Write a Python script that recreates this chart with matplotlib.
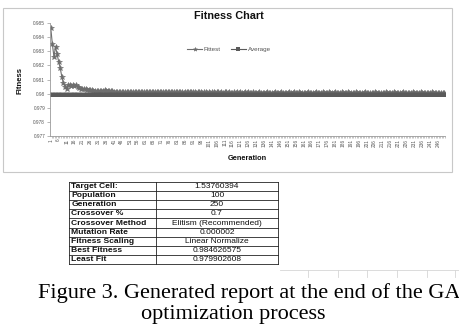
import matplotlib
matplotlib.use('Agg')
import matplotlib.pyplot as plt
from matplotlib.lines import Line2D
from matplotlib.patches import Rectangle
import matplotlib.ticker as mticker

# ---- data ----
generations = list(range(1, 251))

fittest = [
    0.98463, 0.98349, 0.98261, 0.98332, 0.98278, 0.98226, 0.98179, 0.98119, 0.98072, 0.98048,
    0.98032, 0.98062, 0.98060, 0.98055, 0.98058, 0.98052, 0.98062, 0.98050, 0.98040, 0.98035,
    0.98030, 0.98030, 0.98032, 0.98028, 0.98026, 0.98024, 0.98026, 0.98022, 0.98021, 0.98022,
    0.98020, 0.98021, 0.98019, 0.98022, 0.98024, 0.98020, 0.98018, 0.98017, 0.98016, 0.98018,
    0.98015, 0.98014, 0.98013, 0.98015, 0.98013, 0.98012, 0.98011, 0.98012, 0.98014, 0.98011,
    0.98010, 0.98011, 0.98009, 0.98010, 0.98012, 0.98010, 0.98009, 0.98010, 0.98011, 0.98009,
    0.98010, 0.98012, 0.98010, 0.98009, 0.98008, 0.98010, 0.98009, 0.98008, 0.98010, 0.98009,
    0.98008, 0.98009, 0.98010, 0.98008, 0.98009, 0.98008, 0.98010, 0.98009, 0.98008, 0.98009,
    0.98010, 0.98008, 0.98009, 0.98008, 0.98007, 0.98009, 0.98008, 0.98010, 0.98008, 0.98009,
    0.98008, 0.98009, 0.98007, 0.98008, 0.98009, 0.98008, 0.98007, 0.98009, 0.98008, 0.98007,
    0.98008, 0.98007, 0.98009, 0.98008, 0.98007, 0.98008, 0.98009, 0.98007, 0.98008, 0.98007,
    0.98008, 0.98009, 0.98007, 0.98008, 0.98007, 0.98006, 0.98008, 0.98007, 0.98008, 0.98007,
    0.98008, 0.98007, 0.98006, 0.98008, 0.98007, 0.98008, 0.98006, 0.98007, 0.98008, 0.98007,
    0.98006, 0.98007, 0.98008, 0.98007, 0.98006, 0.98007, 0.98006, 0.98008, 0.98007, 0.98006,
    0.98007, 0.98006, 0.98008, 0.98007, 0.98006, 0.98007, 0.98008, 0.98006, 0.98007, 0.98006,
    0.98007, 0.98008, 0.98006, 0.98007, 0.98009, 0.98007, 0.98006, 0.98008, 0.98007, 0.98006,
    0.98007, 0.98006, 0.98007, 0.98008, 0.98006, 0.98007, 0.98006, 0.98007, 0.98008, 0.98006,
    0.98007, 0.98006, 0.98008, 0.98007, 0.98006, 0.98007, 0.98009, 0.98007, 0.98006, 0.98007,
    0.98008, 0.98007, 0.98006, 0.98007, 0.98008, 0.98006, 0.98007, 0.98006, 0.98008, 0.98007,
    0.98006, 0.98007, 0.98006, 0.98008, 0.98007, 0.98006, 0.98007, 0.98006, 0.98007, 0.98008,
    0.98006, 0.98007, 0.98006, 0.98007, 0.98006, 0.98008, 0.98007, 0.98006, 0.98007, 0.98006,
    0.98007, 0.98006, 0.98008, 0.98007, 0.98006, 0.98007, 0.98006, 0.98008, 0.98007, 0.98006,
    0.98007, 0.98006, 0.98007, 0.98008, 0.98006, 0.98007, 0.98006, 0.98007, 0.98006, 0.98008,
    0.98007, 0.98006, 0.98007, 0.98006, 0.98008, 0.98007, 0.98006, 0.98007, 0.98006, 0.98007,
    0.98006, 0.98008, 0.98007, 0.98006, 0.98007, 0.98006, 0.98007, 0.98006, 0.98007, 0.98006,
]

average = [
    0.97993, 0.97992, 0.97993, 0.97992, 0.97993, 0.97992, 0.97993, 0.97992, 0.97992, 0.97993,
    0.97992, 0.97993, 0.97992, 0.97992, 0.97993, 0.97992, 0.97993, 0.97992, 0.97992, 0.97993,
    0.97992, 0.97992, 0.97993, 0.97992, 0.97992, 0.97993, 0.97992, 0.97992, 0.97993, 0.97992,
    0.97992, 0.97993, 0.97992, 0.97992, 0.97992, 0.97993, 0.97992, 0.97992, 0.97993, 0.97992,
    0.97992, 0.97992, 0.97993, 0.97992, 0.97992, 0.97992, 0.97993, 0.97992, 0.97992, 0.97992,
    0.97993, 0.97992, 0.97992, 0.97992, 0.97993, 0.97992, 0.97992, 0.97993, 0.97992, 0.97992,
    0.97992, 0.97993, 0.97992, 0.97992, 0.97992, 0.97992, 0.97993, 0.97992, 0.97992, 0.97992,
    0.97993, 0.97992, 0.97992, 0.97992, 0.97992, 0.97993, 0.97992, 0.97992, 0.97992, 0.97993,
    0.97992, 0.97992, 0.97992, 0.97992, 0.97993, 0.97992, 0.97992, 0.97992, 0.97992, 0.97993,
    0.97992, 0.97992, 0.97992, 0.97993, 0.97992, 0.97992, 0.97992, 0.97992, 0.97993, 0.97992,
    0.97992, 0.97992, 0.97992, 0.97993, 0.97992, 0.97992, 0.97992, 0.97992, 0.97992, 0.97993,
    0.97992, 0.97992, 0.97992, 0.97992, 0.97993, 0.97992, 0.97992, 0.97992, 0.97992, 0.97992,
    0.97993, 0.97992, 0.97992, 0.97992, 0.97992, 0.97993, 0.97992, 0.97992, 0.97992, 0.97992,
    0.97992, 0.97993, 0.97992, 0.97992, 0.97992, 0.97992, 0.97993, 0.97992, 0.97992, 0.97992,
    0.97992, 0.97992, 0.97993, 0.97992, 0.97992, 0.97992, 0.97992, 0.97993, 0.97992, 0.97992,
    0.97992, 0.97992, 0.97992, 0.97993, 0.97992, 0.97992, 0.97992, 0.97992, 0.97993, 0.97992,
    0.97992, 0.97992, 0.97992, 0.97992, 0.97993, 0.97992, 0.97992, 0.97992, 0.97992, 0.97993,
    0.97992, 0.97992, 0.97992, 0.97992, 0.97992, 0.97993, 0.97992, 0.97992, 0.97992, 0.97992,
    0.97993, 0.97992, 0.97992, 0.97992, 0.97992, 0.97992, 0.97993, 0.97992, 0.97992, 0.97992,
    0.97992, 0.97993, 0.97992, 0.97992, 0.97992, 0.97992, 0.97992, 0.97993, 0.97992, 0.97992,
    0.97992, 0.97992, 0.97993, 0.97992, 0.97992, 0.97992, 0.97992, 0.97992, 0.97993, 0.97992,
    0.97992, 0.97992, 0.97992, 0.97993, 0.97992, 0.97992, 0.97992, 0.97992, 0.97992, 0.97993,
    0.97992, 0.97992, 0.97992, 0.97992, 0.97993, 0.97992, 0.97992, 0.97992, 0.97992, 0.97992,
    0.97993, 0.97992, 0.97992, 0.97992, 0.97992, 0.97992, 0.97993, 0.97992, 0.97992, 0.97992,
    0.97992, 0.97993, 0.97992, 0.97992, 0.97992, 0.97992, 0.97992, 0.97993, 0.97992, 0.97992,
]

y_ticks = [0.977, 0.978, 0.979, 0.98, 0.981, 0.982, 0.983, 0.984, 0.985]
x_tick_gens = list(range(1, 251, 5))

table_labels = ['Target Cell:', 'Population', 'Generation', 'Crossover %', 'Crossover Method',
                'Mutation Rate', 'Fitness Scaling', 'Best Fitness', 'Least Fit']
table_values = ['1.53760394', '100', '250', '0.7', 'Elitism (Recommended)',
                '0.000002', 'Linear Normalize', '0.984626575', '0.979902608']

# ---- figure, pixel helpers ----
W, H = 460, 328
fig = plt.figure(figsize=(W / 100, H / 100), dpi=100)

def fx(x):
    return x / W

def fy(y):
    return 1 - y / H

sans = 'Liberation Sans'

# chart border
fig.patches.append(Rectangle((fx(3), fy(172)), fx(449), 164 / H, transform=fig.transFigure,
                             fill=False, edgecolor='#c8c8c8', linewidth=0.8))

# plot area
ax = fig.add_axes([fx(50), fy(136), fx(395), 113 / H])
ax.plot(generations, fittest, color='#6e6e6e', linewidth=0.8, marker='*',
        markersize=4, markeredgewidth=0.4, label='Fittest')
ax.plot(generations, average, color='#5a5a5a', linewidth=3.2, marker='s',
        markersize=2.8, markeredgewidth=0, label='Average')

ax.set_xlim(0.5, 250.5)
ax.set_ylim(0.977, 0.985)
ax.set_yticks(y_ticks)
ax.yaxis.set_major_formatter(mticker.FuncFormatter(lambda v, p: '%g' % round(v, 3)))
ax.set_xticks(x_tick_gens)
ax.set_xticklabels([str(g) for g in x_tick_gens], rotation=90)
ax.set_xticks([g + 0.5 for g in generations], minor=True)

for s in ['top', 'right']:
    ax.spines[s].set_visible(False)
for s in ['left', 'bottom']:
    ax.spines[s].set_color('#9a9a9a')
    ax.spines[s].set_linewidth(0.6)

ax.tick_params(axis='y', labelsize=3.4, labelcolor='#555555', length=2, width=0.5,
               color='#9a9a9a', pad=1.5)
ax.tick_params(axis='x', which='major', labelsize=3.4, labelcolor='#555555', length=0, pad=2)
ax.tick_params(axis='x', which='minor', length=1.5, width=0.4, color='#9a9a9a')
for lab in ax.get_xticklabels() + ax.get_yticklabels():
    lab.set_family(sans)

fig.text(fx(229), fy(16), 'Fitness Chart', ha='center', va='center', fontsize=7.8,
         fontweight='bold', family=sans, color='#111111')
fig.text(fx(20), fy(80), 'Fitness', ha='center', va='center', rotation=90, fontsize=5.6,
         fontweight='bold', family=sans, color='#111111')
fig.text(fx(247), fy(158), 'Generation', ha='center', va='center', fontsize=5.3,
         fontweight='bold', family=sans, color='#111111')

handles = [Line2D([], [], color='#6e6e6e', linewidth=0.8, marker='*', markersize=3,
                  markeredgewidth=0.4),
           Line2D([], [], color='#5a5a5a', linewidth=0.8, marker='s', markersize=2.5,
                  markeredgewidth=0)]
leg = ax.legend(handles, ['Fittest', 'Average'], loc='center', ncol=2, frameon=False,
                bbox_to_anchor=(fx(229), fy(49)), bbox_transform=fig.transFigure,
                prop={'family': sans, 'size': 4.5}, handlelength=2.4, handletextpad=0.3,
                columnspacing=1.6)
for t in leg.get_texts():
    t.set_color('#555555')

# ---- parameter table ----
tx0, tx1, tsplit = 69, 278, 156
ty0, ty1 = 182, 264
tab = fig.add_axes([fx(tx0), fy(ty1), fx(tx1 - tx0), (ty1 - ty0) / H])
tab.set_xlim(tx0, tx1)
tab.set_ylim(ty1, ty0)
tab.axis('off')
n = len(table_labels)
rh = (ty1 - ty0) / n
for i in range(n + 1):
    tab.plot([tx0, tx1], [ty0 + i * rh] * 2, color='#222222', linewidth=0.6,
             solid_capstyle='projecting', clip_on=False)
for xv in [tx0, tsplit, tx1]:
    tab.plot([xv, xv], [ty0, ty1], color='#222222', linewidth=0.6,
             solid_capstyle='projecting', clip_on=False)
for i, (lab, val) in enumerate(zip(table_labels, table_values)):
    yc = ty0 + (i + 0.5) * rh
    tab.text(tx0 + 2.5, yc, lab, ha='left', va='center', fontsize=6.1, fontweight='bold',
             family=sans, color='#111111')
    tab.text((tsplit + tx1) / 2, yc, val, ha='center', va='center', fontsize=6.0,
             family=sans, color='#111111')

# faint sheet gridlines right of the table
for xv in [308, 338, 367, 397, 427, 455]:
    fig.add_artist(Line2D([fx(xv)] * 2, [fy(270), fy(277)], transform=fig.transFigure,
                          color='#d6d6d6', linewidth=0.6))
fig.add_artist(Line2D([fx(280), fx(460)], [fy(270)] * 2, transform=fig.transFigure,
                      color='#d6d6d6', linewidth=0.6))

# ---- caption ----
fig.text(fx(38), fy(298), 'Figure 3. Generated report at the end of the GA', ha='left',
         va='baseline', fontsize=16, family='Liberation Serif', color='#000000')
fig.text(fx(233), fy(319), 'optimization process', ha='center', va='baseline',
         fontsize=16, family='Liberation Serif', color='#000000')

fig.savefig('out.png', dpi=100)
